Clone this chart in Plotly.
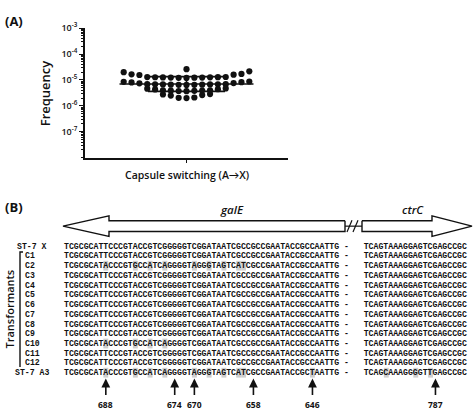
import numpy as np
import plotly.graph_objects as go

W, H = 474, 410

# ---------------- panel A data: capsule switching frequencies (one dot per replicate),
# grouped in the rows the dot plot shows them in
FREQ_TOP = [2.6e-5]
FREQ_UPPER = [1.20e-5, 1.21e-5, 1.22e-5, 1.23e-5, 1.24e-5, 1.25e-5, 1.26e-5, 1.27e-5, 1.28e-5,
              1.29e-5, 1.30e-5, 1.55e-5, 1.60e-5, 1.65e-5, 1.70e-5, 2.00e-5, 2.15e-5]
FREQ_MID = [6.4e-6, 6.5e-6, 6.5e-6, 6.6e-6, 6.6e-6, 6.7e-6, 6.7e-6, 6.8e-6, 6.8e-6,
            6.9e-6, 6.9e-6, 7.4e-6, 7.6e-6, 8.0e-6, 8.2e-6, 8.5e-6, 8.7e-6]
FREQ_LOW = [3.70e-6, 3.75e-6, 3.80e-6, 3.85e-6, 3.90e-6, 3.95e-6, 4.00e-6, 4.30e-6, 4.40e-6,
            4.60e-6, 4.70e-6]
FREQ_BOTTOM = [2.00e-6, 2.05e-6, 2.10e-6, 2.50e-6, 2.60e-6, 2.75e-6, 2.85e-6]
FREQ_ROWS = [FREQ_TOP, FREQ_UPPER, FREQ_MID, FREQ_LOW, FREQ_BOTTOM]

Y_TICKS = [1e-3, 1e-4, 1e-5, 1e-6, 1e-7]
Y_TICK_TEXT = ["10<sup>-3</sup>", "10<sup>-4</sup>", "10<sup>-5</sup>", "10<sup>-6</sup>", "10<sup>-7</sup>"]
X_LABEL = "Capsule switching (A\u2192X)"
Y_LABEL = "Frequency"

# ---------------- panel B data: alignment of galE / ctrC region
ROW_LABELS = ["ST-7 X", "C1", "C2", "C3", "C4", "C5", "C6", "C7", "C8", "C9",
              "C10", "C11", "C12", "ST-7 A3"]
GALE_X = "TCGCGCATTCCCGTACCGTCGGGGGTCGGATAATCGCCGCCGAATACCGCCAATTG"
SEQ_GALE = [
    GALE_X,
    GALE_X,
    "TCGCGCATACCCGTGCCATCAGGGGTAGGGTAGTCATCGCCGAATACCGCCAATTG",
    GALE_X, GALE_X, GALE_X, GALE_X, GALE_X, GALE_X, GALE_X,
    "TCGCGCATACCCGTGCCATCAGGGGTCGGATAATCGCCGCCGAATACCGCCAATTG",
    GALE_X, GALE_X,
    "TCGCGCATACCCGTGCCATCAGGGGTAGGGTAGTCATCGCCGAATACCGCTAATTG",
]
CTRC_X = "TCAGTAAAGGAGTCGAGCCGC"
SEQ_CTRC = [CTRC_X] * 13 + ["TCAGCAAAGGGGTTGAGCCGC"]
GALE_FIRST_POS = 696      # galE coordinate of the first aligned base (numbered right to left)
GALE_MARKS = [688, 674, 670, 658, 646]
CTRC_FIRST_POS = 773
CTRC_MARKS = [787]
GENE_NAMES = ["galE", "ctrC"]

# ---------------- layout constants (pixels)
PLOT_L, PLOT_R, PLOT_T, PLOT_B = 85, 288, 20.5, 152.7
DOT_STEP = 7.85
SEQ_X0 = 64
CHAR_W = 4.92
ROW_Y0, ROW_STEP = 243, 9.92
SEP = " -   "
MONO = "Liberation Mono, Courier New, monospace"
SANS = "Open Sans, Lato, sans-serif"
INK = "#111111"

fig = go.Figure()

# ---------------- panel A
x_unit = 2.0 / (PLOT_R - PLOT_L)          # x axis spans [-1, 1]
xs, ys = [], []
for row in FREQ_ROWS:
    for i, v in enumerate(sorted(row)):
        k = (i + 1) // 2
        side = -1 if i % 2 == 1 else 1
        xs.append(side * k * DOT_STEP * x_unit)
        ys.append(v)

logs = np.log10(ys)
g_mean = 10 ** logs.mean()
g_hi = 10 ** (logs.mean() + logs.std(ddof=1))
g_lo = 10 ** (logs.mean() - logs.std(ddof=1))

line_style = dict(color=INK, width=1.6)
fig.add_trace(go.Scatter(x=[0, 0], y=[g_lo, g_hi], mode="lines", line=line_style, hoverinfo="skip"))
for val, half in [(g_mean, 0.66), (g_hi, 0.38), (g_lo, 0.38)]:
    fig.add_trace(go.Scatter(x=[-half, half], y=[val, val], mode="lines", line=line_style, hoverinfo="skip"))
fig.add_trace(go.Scatter(x=xs, y=ys, mode="markers",
                         marker=dict(color="#111", size=6.2, line=dict(width=0)),
                         hovertemplate="%{y:.2e}<extra></extra>"))

# ---------------- panel B: gene arrows drawn on a pixel-scaled overlay axis
ARROW_Y, SHAFT_H, HEAD_H, HEAD_L = 222.5, 5.5, 10.5, 46
gene_spans = [(63, 345, -1), (362, 472, 1)]
for (a, b, d) in gene_spans:
    if d < 0:
        px = [b, a + HEAD_L, a + HEAD_L, a, a + HEAD_L, a + HEAD_L, b, b]
    else:
        px = [a, b - HEAD_L + 6, b - HEAD_L + 6, b, b - HEAD_L + 6, b - HEAD_L + 6, a, a]
    py = [ARROW_Y - SHAFT_H, ARROW_Y - SHAFT_H, ARROW_Y - HEAD_H, ARROW_Y, ARROW_Y + HEAD_H,
          ARROW_Y + SHAFT_H, ARROW_Y + SHAFT_H, ARROW_Y - SHAFT_H]
    fig.add_trace(go.Scatter(x=px, y=py, mode="lines", fill="toself", fillcolor="white",
                             line=dict(color=INK, width=1.4), xaxis="x2", yaxis="y2", hoverinfo="skip"))
# break marks between the two genes
fig.add_trace(go.Scatter(x=[345, 362, None, 347, 352, None, 353, 358],
                         y=[ARROW_Y, ARROW_Y, None, ARROW_Y + 6, ARROW_Y - 6, None, ARROW_Y + 6, ARROW_Y - 6],
                         mode="lines", line=dict(color=INK, width=1.2), xaxis="x2", yaxis="y2",
                         hoverinfo="skip"))

shapes = []
annotations = []

def ann(x, y, text, size, family=SANS, xanchor="center", **kw):
    annotations.append(dict(x=x, y=y, xref="x2", yref="y2", text=text, showarrow=False,
                            xanchor=xanchor, yanchor="middle", borderpad=0, borderwidth=0,
                            font=dict(family=family, size=size, color=INK, **kw.pop("font", {})), **kw))

ann(5, 13, "(A)", 13, xanchor="left", font=dict(weight=700))
ann(5, 203, "(B)", 13, xanchor="left", font=dict(weight=700))
ann(45, 87, Y_LABEL, 13, textangle=-90, font=dict(weight=600))
ann((PLOT_L + PLOT_R) / 2, 170, X_LABEL, 10.5, font=dict(weight=600))
ann(232, 205, GENE_NAMES[0], 11.5, font=dict(style="italic", weight=600))
ann(413, 205, GENE_NAMES[1], 11.5, font=dict(style="italic", weight=600))

ctrc_offset = len(GALE_X) + len(SEP)
for r, (lab, ga, ct) in enumerate(zip(ROW_LABELS, SEQ_GALE, SEQ_CTRC)):
    y = ROW_Y0 + r * ROW_STEP
    lx = 25 if lab.startswith("C") else (15 if lab.endswith("A3") else 17)
    ann(lx, y, lab, 8.2, family=MONO, xanchor="left", font=dict(weight=700))
    ann(SEQ_X0, y, ga + SEP + ct, 8.2, family=MONO, xanchor="left", font=dict(weight=700))
    diffs = [i for i, (c, c0) in enumerate(zip(ga, SEQ_GALE[0])) if c != c0]
    diffs += [ctrc_offset + i for i, (c, c0) in enumerate(zip(ct, SEQ_CTRC[0])) if c != c0]
    for i in diffs:
        shapes.append(dict(type="rect", xref="x2", yref="y2", layer="below",
                           x0=SEQ_X0 + i * CHAR_W, x1=SEQ_X0 + (i + 1) * CHAR_W,
                           y0=y - 5, y1=y + 5, fillcolor="#cfcfcf", line=dict(width=0)))

# transformants bracket
y_c1 = ROW_Y0 + ROW_STEP - 4
y_c12 = ROW_Y0 + 12 * ROW_STEP + 4
fig.add_trace(go.Scatter(x=[23, 20, 20], y=[y_c1, y_c1, y_c12], mode="lines",
                         line=dict(color=INK, width=1.4), xaxis="x2", yaxis="y2", hoverinfo="skip"))
ann(9, (y_c1 + y_c12) / 2, "Transformants", 11, textangle=-90, font=dict(weight=600))

# position arrows below the alignment
last_y = ROW_Y0 + 13 * ROW_STEP
marks = [(GALE_FIRST_POS - m, m) for m in GALE_MARKS] + \
        [(ctrc_offset + m - CTRC_FIRST_POS, m) for m in CTRC_MARKS]
for idx, num in marks:
    xc = SEQ_X0 + (idx + 0.5) * CHAR_W
    annotations.append(dict(x=xc, y=last_y + 6, xref="x2", yref="y2", ax=0, ay=18, text="",
                            showarrow=True, arrowhead=2, arrowsize=1.1, arrowwidth=1.6,
                            arrowcolor=INK, standoff=0))
    ann(xc, 404, str(num), 8.5, font=dict(weight=700))

fig.update_layout(
    width=W, height=H,
    margin=dict(l=0, r=0, t=0, b=0),
    paper_bgcolor="white", plot_bgcolor="rgba(0,0,0,0)",
    showlegend=False,
    xaxis=dict(domain=[PLOT_L / W, PLOT_R / W], range=[-1, 1], showline=True, linecolor=INK,
               linewidth=1.6, ticks="outside", tickvals=[0], ticklen=3, tickwidth=1.4,
               tickcolor=INK, showticklabels=False, showgrid=False, zeroline=False, fixedrange=True),
    yaxis=dict(type="log", domain=[1 - PLOT_B / H, 1 - PLOT_T / H], range=[-8, -3],
               showline=True, linecolor=INK, linewidth=1.6, ticks="outside", ticklen=4,
               tickwidth=1.4, tickcolor=INK, tickvals=Y_TICKS, ticktext=Y_TICK_TEXT,
               tickfont=dict(family=SANS, size=9, color=INK, weight=600),
               minor=dict(ticks="outside", ticklen=2, tickwidth=1, tickcolor=INK, dtick="D1",
                          showgrid=False),
               showgrid=False, zeroline=False, fixedrange=True),
    xaxis2=dict(domain=[0, 1], range=[0, W], anchor="y2", visible=False, fixedrange=True),
    yaxis2=dict(domain=[0, 1], range=[H, 0], anchor="x2", visible=False, fixedrange=True),
    shapes=shapes,
    annotations=annotations,
)

fig.write_html("out.html", config={"displayModeBar": False},
               post_script="document.body.style.margin='0';document.body.style.overflow='hidden';")
